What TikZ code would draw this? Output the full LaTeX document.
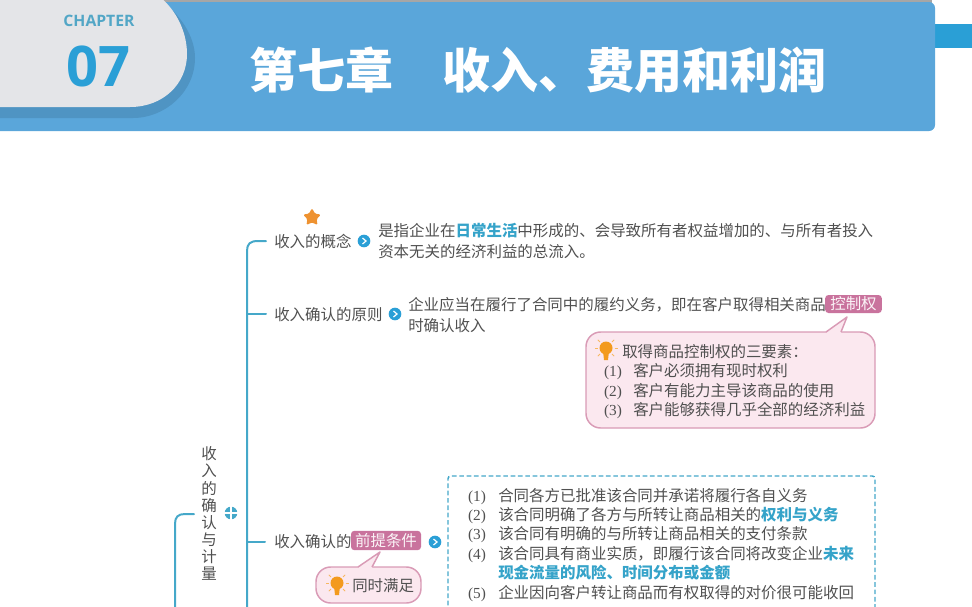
\documentclass[tikz,border=0pt]{standalone}
\usepackage{fontspec}
\setmainfont{Noto Sans CJK SC}
\newfontfamily\latinbold[BoldFont=Open Sans Bold]{Open Sans}
\newfontfamily\numfont{Liberation Serif}
\usetikzlibrary{shapes.geometric,calc}
\definecolor{headblue}{HTML}{5AA6DA}
\definecolor{headshadow}{HTML}{4F94C3}
\definecolor{stripe}{HTML}{2A9FD6}
\definecolor{pillgrey}{HTML}{E4E5E8}
\definecolor{chapblue}{HTML}{52A6C6}
\definecolor{linkblue}{HTML}{45A8C9}
\definecolor{bodygrey}{HTML}{505050}
\definecolor{hlblue}{HTML}{35A3C9}
\definecolor{tagpink}{HTML}{C9739D}
\definecolor{callfill}{HTML}{FBE8EF}
\definecolor{calldraw}{HTML}{D99BB6}
\definecolor{bulb}{HTML}{F39A1E}
\definecolor{staror}{HTML}{EE9231}
\newcommand{\hl}[1]{\textcolor{hlblue}{\bfseries #1}}
\newcommand{\bulbicon}[2]{%
  \foreach \a in {0,45,135,180,225,315,90}{\draw[bulb!70,line width=.6pt] ($(#1,#2)+(\a:8.5)$) -- ($(#1,#2)+(\a:11.5)$);}
  \fill[bulb] (#1,#2) circle (6.5);
  \fill[bulb] (#1-3,#2+3) -- (#1+3,#2+3) -- (#1+2,#2+12) -- (#1-2,#2+12) -- cycle;
}
% box x1,y1,x2,y2 ; tail base x a, base x b, apex x, apex y
\newcommand{\callbox}[8]{%
  \draw[callout,rounded corners=11pt] (#1,#2) rectangle (#3,#4);
  \fill[callfill] (#5,#2+1) -- (#7,#8) -- (#6,#2+1) -- cycle;
  \draw[draw=calldraw,line width=1.1pt,line join=round] (#5,#2) -- (#7,#8) -- (#6,#2);
}
\tikzset{
  x=.75pt,y=-.75pt,
  txt/.style={anchor=base west,inner sep=0pt,text=bodygrey,font=\fontsize{11.6}{13}\selectfont},
  num/.style={anchor=base,inner sep=0pt,text=bodygrey,font=\numfont\fontsize{11.5}{13}\selectfont},
  branch/.style={draw=linkblue,line width=1.5pt,line cap=round},
  tag/.style={fill=tagpink,rounded corners=2.5pt,text=white!92!tagpink,inner sep=0pt,font=\fontsize{11.6}{13}\selectfont},
  callout/.style={fill=callfill,draw=calldraw,line width=1.1pt,line join=round},
  go/.style={circle,fill=stripe,inner sep=0pt,minimum size=9.5pt},
}
\begin{document}
\begin{tikzpicture}
\useasboundingbox (0,0) rectangle (972,607);
\clip (0,0) rectangle (972,607);
% header
\fill[stripe] (930,24) rectangle (972,48);
\fill[black!35] (0,0) rectangle (932,3);
\fill[headblue,rounded corners=4.5pt] (-20,2) rectangle (935,131);
\fill[headshadow] (-5,0) -- (160,0) .. controls (180,14) and (195,36) .. (195,58) .. controls (195,92) and (165,118) .. (133,118) -- (-5,118) -- cycle;
\fill[pillgrey] (-5,-3) -- (160,-3) .. controls (178,12) and (187,34) .. (187,54) .. controls (187,84) and (163,107) .. (130,107) -- (-5,107) -- cycle;
\node[inner sep=0pt,text=chapblue,font=\latinbold\bfseries\fontsize{11.8}{13}\selectfont] (chap) at (99,21) {CHAPTER};
\node[inner sep=0pt,text=stripe,font=\latinbold\bfseries\fontsize{42}{44}\selectfont] (num) at (98,66) {07};
\node[anchor=base west,inner sep=0pt,text=white,font=\bfseries\fontsize{36}{40}\selectfont] (t1) at (249,88) {第七章};
\node[anchor=base west,inner sep=0pt,text=white,font=\bfseries\fontsize{36}{40}\selectfont] (t2) at (442,88) {收入、费用和利润};
% trunks
\coordinate (rootTop) at (194,514);
\coordinate (rootEnd) at (175,615);
\coordinate (trunkEnd) at (247,615);
\coordinate (b1) at (266,241);
\coordinate (b2) at (266,314);
\coordinate (b2t) at (247,314);
\coordinate (b3) at (265,542);
\coordinate (b3t) at (247,542);
\draw[branch] (rootTop) -- (185,514) .. controls (178,514) and (175,517) .. (175,524) -- (rootEnd);
\draw[branch] (b1) -- (258,241) .. controls (250,241) and (247,244) .. (247,251) -- (trunkEnd);
\draw[branch] (b2t) -- (b2);
\draw[branch] (b3t) -- (b3);
% root label
\foreach \c [count=\i from 0] in {收,入,的,确,认,与,计,量}{
  \node[inner sep=0pt,text=bodygrey,font=\fontsize{11.6}{13}\selectfont] (root\i) at (209,454+\i*17.15) {\c};
}
\node[circle,fill=linkblue,inner sep=0pt,minimum size=9.5pt] (rootdot) at (231,513) {};
\draw[white,line width=.9pt] (rootdot.north) -- (rootdot.south) (rootdot.west) -- (rootdot.east);
% branch 1
\node[star,star points=5,star point ratio=1.9,rounded corners=1pt,fill=staror,inner sep=0pt,minimum size=14pt] (st) at (312,217.5) {};
\node[txt] (l1) at (274,247) {收入的概念};
\node[go] (g1) at (364,241) {};
\draw[white,line width=.9pt] ($(g1)+(-1.5,-3)$) -- ($(g1)+(2,0)$) -- ($(g1)+(-1.5,3)$);
\node[txt] (d1a) at (378,236) {是指企业在\hl{日常生活}中形成的、会导致所有者权益增加的、与所有者投入};
\node[txt] (d1b) at (378,257) {资本无关的经济利益的总流入。};
% branch 2
\node[txt] (l2) at (274,320) {收入确认的原则};
\node[go] (g2) at (395,314) {};
\draw[white,line width=.9pt] ($(g2)+(-1.5,-3)$) -- ($(g2)+(2,0)$) -- ($(g2)+(-1.5,3)$);
\node[txt] (d2a) at (408,310) {企业应当在履行了合同中的履约义务，即在客户取得相关商品};
\node[tag,minimum width=42.5pt,minimum height=13.5pt] (kz) at (853.5,304) {控制权};
\node[txt] (d2b) at (408,331) {时确认收入};
% callout 1
\callbox{586}{332}{875}{428}{826}{841}{847}{317}
\bulbicon{606}{348}
\node[txt] (c0) at (622,357) {取得商品控制权的三要素：};
\node[num] (c1n) at (613,376) {(1)};
\node[txt] (c1) at (633,376) {客户必须拥有现时权利};
\node[num] (c2n) at (613,396) {(2)};
\node[txt] (c2) at (633,396) {客户有能力主导该商品的使用};
\node[num] (c3n) at (613,415) {(3)};
\node[txt] (c3) at (633,415) {客户能够获得几乎全部的经济利益};
% branch 3
\node[txt] (l3) at (274,547) {收入确认的};
\node[tag,minimum width=52.5pt,minimum height=14.5pt] (qt) at (386,540.5) {前提条件};
\node[go] (g3) at (435,542) {};
\draw[white,line width=.9pt] ($(g3)+(-1.5,-3)$) -- ($(g3)+(2,0)$) -- ($(g3)+(-1.5,3)$);
% callout 2
\callbox{316}{567}{421}{603}{358}{372}{380}{552}
\bulbicon{337}{583}
\node[txt] (c4) at (352,591) {同时满足};
% dashed box
\draw[linkblue,line width=1.1pt,dash pattern=on 3.5pt off 2pt,rounded corners=2pt] (448,620) -- (448,476) -- (875,476) -- (875,620);
\node[num] (n1) at (477,501) {(1)};
\node[txt] (p1) at (498,501) {合同各方已批准该合同并承诺将履行各自义务};
\node[num] (n2) at (477,520) {(2)};
\node[txt] (p2) at (498,520) {该合同明确了各方与所转让商品相关的\hl{权利与义务}};
\node[num] (n3) at (477,539) {(3)};
\node[txt] (p3) at (498,539) {该合同有明确的与所转让商品相关的支付条款};
\node[num] (n4) at (477,559) {(4)};
\node[txt] (p4) at (498,559) {该合同具有商业实质，即履行该合同将改变企业\hl{未来}};
\node[txt] (p4b) at (498,578) {\hl{现金流量的风险、时间分布或金额}};
\node[num] (n5) at (477,598) {(5)};
\node[txt] (p5) at (498,598) {企业因向客户转让商品而有权取得的对价很可能收回};
\end{tikzpicture}
\end{document}
